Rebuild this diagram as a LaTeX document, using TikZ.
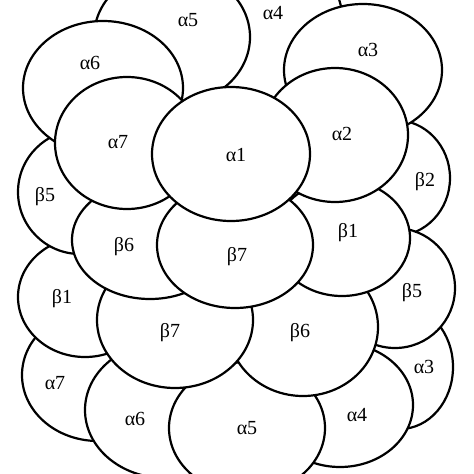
\documentclass[tikz,border=0pt]{standalone}
\usepackage{fontspec}
\setmainfont{Liberation Serif}
\usetikzlibrary{shapes.geometric}

\begin{document}
\begin{tikzpicture}[x=1pt, y=-1pt,
    sub/.style 2 args={draw, ellipse, fill=white, line width=2.2pt,
        inner sep=0pt, minimum width=2*#1, minimum height=2*#2},
    tag/.style={font=\fontsize{20}{20}\selectfont}]
\useasboundingbox (0,0) rectangle (474,474);
\clip (0,0) rectangle (474,474);

% lower alpha ring
\node[sub={53pt}{62pt}] (a3l) at (400,367) {};
\node[sub={73pt}{62pt}] (a4l) at (340,405) {};
\node[sub={76pt}{66pt}] (a7l) at (98,375) {};
\node[sub={80pt}{68pt}] (a6l) at (165,410) {};
\node[sub={78pt}{66pt}] (a5l) at (247,428) {};

% beta rings
\node[sub={55pt}{58pt}] (b2u) at (395,178) {};
\node[sub={60pt}{60pt}] (b5l) at (395,288) {};
\node[sub={75pt}{69pt}] (b6l) at (303,327) {};
\node[sub={67pt}{60pt}] (b1l) at (85,297) {};
\node[sub={78pt}{68pt}] (b7l) at (175,320) {};
\node[sub={68pt}{58pt}] (b1u) at (342,238) {};
\node[sub={62pt}{62pt}] (b5u) at (80,192) {};
\node[sub={78pt}{59pt}] (b6u) at (150,240) {};
\node[sub={78pt}{63pt}] (b7u) at (235,245) {};

% upper alpha ring
\node[sub={75pt}{80pt}] (a4u) at (268,25) {};
\node[sub={78pt}{68pt}] (a5u) at (172,37) {};
\node[sub={80pt}{67pt}] (a6u) at (103,88) {};
\node[sub={72pt}{66pt}] (a7u) at (127,143) {};
\node[sub={79pt}{66pt}] (a3u) at (363,70) {};
\node[sub={73pt}{67pt}] (a2u) at (335,135) {};
\node[sub={79pt}{67pt}] (a1u) at (231,154) {};

% labels
\node[tag] (ta5u) at (188,20) {α5};
\node[tag] (ta4u) at (273,13) {α4};
\node[tag] (ta3u) at (368,50) {α3};
\node[tag] (ta6u) at (90,63) {α6};
\node[tag] (ta7u) at (118,142) {α7};
\node[tag] (ta1u) at (236,155) {α1};
\node[tag] (ta2u) at (342,134) {α2};
\node[tag] (tb5u) at (45,197) {β5};
\node[tag] (tb2u) at (425,182) {β2};
\node[tag] (tb6u) at (124,247) {β6};
\node[tag] (tb7u) at (237,257) {β7};
\node[tag] (tb1u) at (348,233) {β1};
\node[tag] (tb1l) at (62,299) {β1};
\node[tag] (tb7l) at (170,333) {β7};
\node[tag] (tb6l) at (300,333) {β6};
\node[tag] (tb5l) at (412,293) {β5};
\node[tag] (ta7l) at (55,383) {α7};
\node[tag] (ta3l) at (424,367) {α3};
\node[tag] (ta6l) at (135,419) {α6};
\node[tag] (ta5l) at (247,428) {α5};
\node[tag] (ta4l) at (357,415) {α4};
\end{tikzpicture}
\end{document}
